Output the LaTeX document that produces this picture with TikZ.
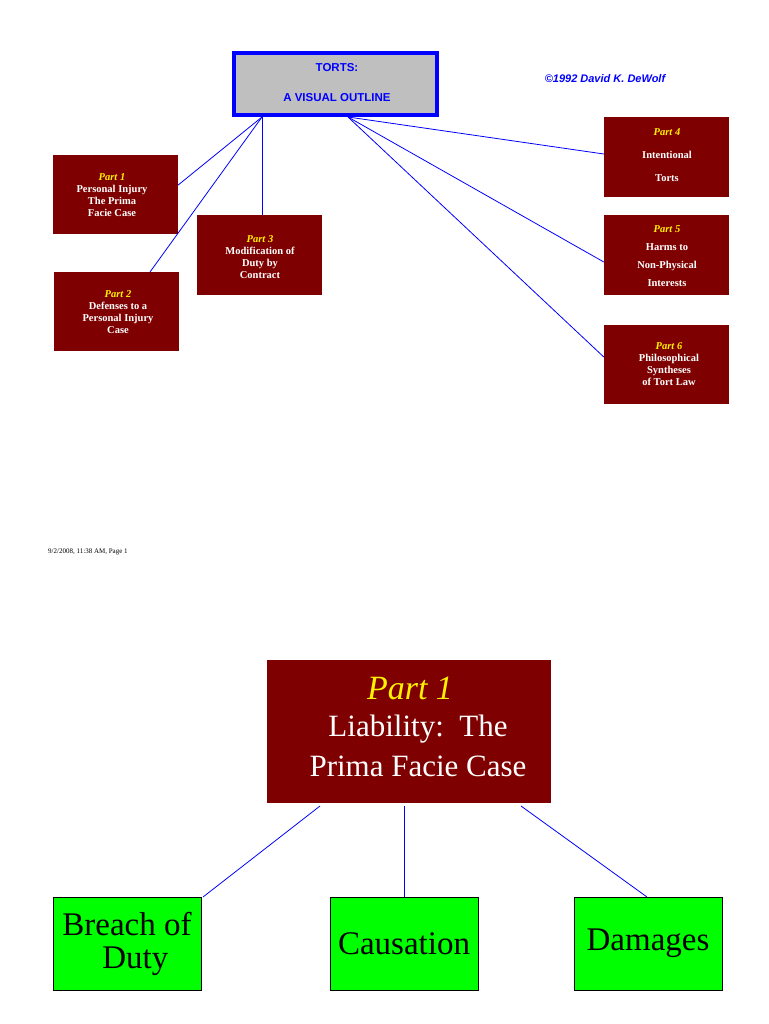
\documentclass[tikz,border=0pt]{standalone}
\usepackage{fontspec}
\setmainfont{Liberation Serif}
\newfontfamily\arial{Liberation Sans}
\begin{document}
\begin{tikzpicture}[x=1pt,y=-1pt,
  part/.style={fill=dred,draw=none,text=white,font=\bfseries\fontsize{10.5}{12}\selectfont,align=center,inner sep=0pt},
  gbox/.style={fill=green,draw=black,line width=1pt,font=\fontsize{33}{33}\selectfont,align=center,inner sep=0pt},
  link/.style={blue,line width=0.8pt}]
\definecolor{dred}{HTML}{7F0000}
\definecolor{bl}{HTML}{0000FF}
\useasboundingbox[fill=white] (0,0) rectangle (768,1024);
% title
\node[draw=bl,line width=4pt,fill=black!25,minimum width=203,minimum height=62,inner sep=0pt] (t) at (335.5,84) {};
\node[text=bl,font=\arial\bfseries\fontsize{11.5}{14}\selectfont] (t1) at (337,68) {TORTS:};
\node[text=bl,font=\arial\bfseries\fontsize{11.5}{14}\selectfont] (t2) at (337,98) {A VISUAL OUTLINE};
\node[text=bl,font=\arial\bfseries\itshape\fontsize{11}{13}\selectfont] (c) at (605,79) {\textcopyright1992 David K. DeWolf};
\coordinate (tl) at (262,117); \coordinate (tr) at (348,117);
% parts
\newcommand{\pt}[1]{{\color{yellow}\itshape #1}}
\node[part,minimum width=125,minimum height=79] (p1) at (115.5,194.5) {};
\node[part] at (112,195) {\pt{Part 1}\\Personal Injury\\The Prima\\Facie Case};
\node[part,minimum width=125,minimum height=79] (p2) at (116.5,311.5) {};
\node[part] at (118,312) {\pt{Part 2}\\Defenses to a\\Personal Injury\\Case};
\node[part,minimum width=125,minimum height=80] (p3) at (259.5,255) {};
\node[part] at (260,257) {\pt{Part 3}\\Modification of\\Duty by\\Contract};
\node[part,minimum width=125,minimum height=80] (p4) at (666.5,157) {};
\node[part,font=\bfseries\fontsize{10.5}{23}\selectfont] at (667,155) {\pt{Part 4}\\Intentional\\Torts};
\node[part,minimum width=125,minimum height=80] (p5) at (666.5,255) {};
\node[part,font=\bfseries\fontsize{10.5}{18}\selectfont] at (667,256) {\pt{Part 5}\\Harms to\\Non-Physical\\Interests};
\node[part,minimum width=125,minimum height=79] (p6) at (666.5,364.5) {};
\node[part] at (669,364) {\pt{Part 6}\\Philosophical\\Syntheses\\of Tort Law};
\draw[link] (tl) -- (p1.east |- 0,185);
\draw[link] (tl) -- (150,272);
\draw[link] (tl) -- (p3.north -| tl);
\draw[link] (tr) -- (p4.west |- 0,154);
\draw[link] (tr) -- (p5.west |- 0,262);
\draw[link] (tr) -- (p6.west |- 0,357);
\node[font=\fontsize{7}{8}\selectfont,anchor=west,inner sep=0pt] (f) at (48,552) {9/2/2008, 11:38 AM, Page 1};
% page 2
\node[fill=dred,minimum width=284,minimum height=143,inner sep=0pt] (b) at (409,731.5) {};
\node[text=yellow,font=\itshape\fontsize{34}{34}\selectfont] at (410,688) {Part 1};
\node[text=white,font=\fontsize{31}{40}\selectfont,align=center] at (418,746) {Liability:\ \ The\\Prima Facie Case};
\node[gbox,minimum width=148,minimum height=93] (g1) at (127,943.5) {Breach of\\\ \ Duty};
\node[gbox,minimum width=148,minimum height=93] (g2) at (404,943.5) {Causation};
\node[gbox,minimum width=148,minimum height=93] (g3) at (648,943.5) {Damages};
\draw[link] (320,806) -- (203,897);
\draw[link] (404,806) -- (g2.north);
\draw[link] (521,806) -- (647,897);
\end{tikzpicture}
\end{document}
